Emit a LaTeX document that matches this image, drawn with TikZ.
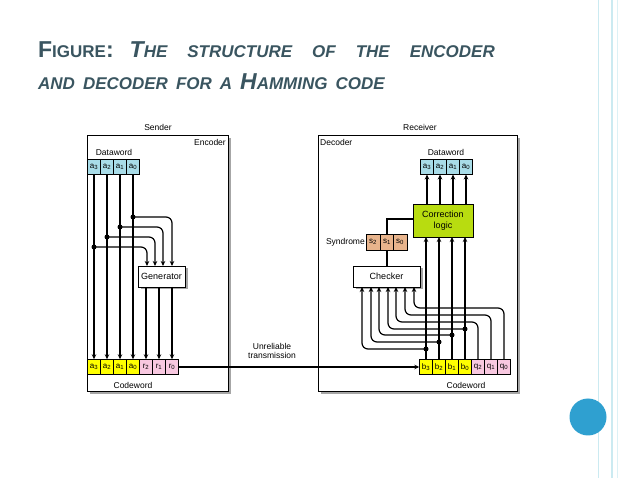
\documentclass[tikz,border=0pt]{standalone}
\usepackage{fontspec}
\setmainfont{Liberation Sans}
\usetikzlibrary{arrows.meta}
\newcommand\cw[2]{#1\textsubscript{#2}}
\definecolor{dblue}{HTML}{A8DCE8}
\definecolor{yel}{HTML}{FFFF00}
\definecolor{pnk}{HTML}{F8C8E0}
\definecolor{tan}{HTML}{E8B48C}
\definecolor{lime}{HTML}{B8DC10}
\definecolor{ttl}{HTML}{3A5560}
\definecolor{circ}{HTML}{2FA0D0}
\begin{document}
\begin{tikzpicture}[x=1pt,y=-1pt,
  cell/.style={draw,minimum width=13pt,minimum height=15pt,inner sep=0pt,font=\fontsize{8}{9}\selectfont},
  box/.style={draw,fill=white,inner sep=0pt,font=\fontsize{9}{10}\selectfont},
  lbl/.style={font=\fontsize{8.5}{9}\selectfont,inner sep=1pt},
  ar/.style={-{Stealth[length=5pt,width=4.5pt]},line width=1.2pt},
  dot/.style={circle,fill,inner sep=0pt,minimum size=5pt},
  rc/.style={rounded corners=6pt}]
\useasboundingbox (0,0) rectangle (638,478);
\fill[white] (0,0) rectangle (638,478);
% decoration
\draw[dblue!60,line width=1pt] (598,0) -- (598,478);
\draw[dblue!60,line width=2pt] (612,0) -- (612,478);
\draw[dblue!40,line width=0.6pt] (617,0) -- (617,478);
\node[circle,fill=circ,minimum size=37pt] (cc) at (588,417) {};
% title
\node[anchor=west,text=ttl,font=\fontsize{23}{24}\selectfont\bfseries,inner sep=0] (t1) at (38,50)
  {F{\fontsize{17}{18}\selectfont IGURE}:\hspace{16pt}\textit{T{\fontsize{17}{18}\selectfont HE\hspace{20pt}STRUCTURE\hspace{20pt}OF\hspace{20pt}THE\hspace{20pt}ENCODER}}};
\node[anchor=west,text=ttl,font=\fontsize{17}{18}\selectfont\itshape\bfseries,inner sep=0] (t2) at (38,82)
  {AND\hspace{8pt}DECODER\hspace{8pt}FOR\hspace{8pt}A\hspace{8pt}{\fontsize{23}{24}\selectfont H}AMMING\hspace{8pt}CODE};
% encoder frame
\fill[gray!70] (89.5,138.5) rectangle (230.5,394.5);
\draw[fill=white,line width=1pt] (87,136) rectangle (228,392);
\node[lbl] (snd) at (158,127) {Sender};
\node[lbl,anchor=north east] (enc) at (227,138) {Encoder};
\node[lbl] (dw1) at (114,152) {Dataword};
\foreach \n/\s/\x in {ea3/3/94,ea2/2/107,ea1/1/120,ea0/0/133}
  \node[cell,fill=dblue] (\n) at (\x,167) {\cw{a}{\s}};
\foreach \n/\s/\x in {ca3/3/94,ca2/2/107,ca1/1/120,ca0/0/133}
  \node[cell,fill=yel] (\n) at (\x,367) {\cw{a}{\s}};
\foreach \n/\s/\x in {cr2/2/146,cr1/1/159,cr0/0/172}
  \node[cell,fill=pnk] (\n) at (\x,367) {\cw{r}{\s}};
\node[lbl] (cwl1) at (133,385) {Codeword};
\fill[gray!70] (140.5,268.5) rectangle (187.5,289.5);
\node[box,minimum width=47pt,minimum height=21pt] (gen) at (161.5,276.5) {Generator};
\foreach \a/\c in {ea3/ca3,ea2/ca2,ea1/ca1,ea0/ca0}
  \draw[ar] (\a.south) -- (\c.north);
\foreach \n/\x/\y/\t in {d0/133/217/172,d1/120/227/163,d2/107/237/155,d3/94/247/147}{
  \node[dot] (\n) at (\x,\y) {};
  \draw[ar,rc] (\n.center) -- (\t,\y) -- (\t,266);
}
\draw[ar] (146,287) -- (cr2.north);
\draw[ar] (159,287) -- (cr1.north);
\draw[ar] (172,287) -- (cr0.north);
% transmission
\node[lbl,align=center] (unr) at (272,351) {Unreliable\\transmission};
% decoder frame
\fill[gray!70] (320.5,138.5) rectangle (519.5,394.5);
\draw[fill=white,line width=1pt] (318,136) rectangle (517,392);
\node[lbl] (rcv) at (420,127) {Receiver};
\node[lbl,anchor=north west] (dec) at (319,138) {Decoder};
\node[lbl] (dw2) at (446,152) {Dataword};
\foreach \n/\s/\x in {da3/3/427,da2/2/440,da1/1/453,da0/0/466}
  \node[cell,fill=dblue] (\n) at (\x,167) {\cw{a}{\s}};
\foreach \n/\s/\x in {b3/3/426,b2/2/439,b1/1/452,b0/0/465}
  \node[cell,fill=yel] (\n) at (\x,367) {\cw{b}{\s}};
\foreach \n/\s/\x in {q2/2/478,q1/1/491,q0/0/504}
  \node[cell,fill=pnk] (\n) at (\x,367) {\cw{q}{\s}};
\node[lbl] (cwl2) at (466,385) {Codeword};
\draw[ar] (cr0.east) -- (b3.west);
\node[box,fill=lime,minimum width=60pt,minimum height=33pt,align=center,font=\fontsize{9}{11}\selectfont] (cor) at (443,220.5) {Correction\\logic};
\foreach \n/\s/\x in {s2/2/373,s1/1/387,s0/0/400}
  \node[cell,fill=tan,minimum width=14pt,minimum height=16pt] (\n) at (\x,242) {\cw{s}{\s}};
\node[lbl,anchor=east] (syn) at (366,242) {Syndrome};
\fill[gray!70] (355.5,268.5) rectangle (422.5,289.5);
\node[box,minimum width=67pt,minimum height=21pt] (chk) at (386.5,276.5) {Checker};
\draw[line width=2.5pt] (s1.north) -- (387,219) -- (cor.west |- 0,219);
\draw[line width=2.5pt] (s1.south) -- (chk.north -| s1);
\foreach \b/\x in {b3/426,b2/439,b1/452,b0/465}
  \draw[ar] (\b.north) -- (\x,237);
\foreach \x in {427,440,453,466}
  \draw[ar] (\x,204) -- (\x,174.5);
\foreach \n/\b/\y/\t in {e3/426/349/362,e2/439/342/371,e1/452/335/379,e0/465/329/388}{
  \node[dot] (\n) at (\b,\y) {};
  \draw[ar,rc] (\n.center) -- (\t,\y) -- (\t,287);
}
\draw[ar,rc] (q2.north) -- (478,322) -- (396,322) -- (396,287);
\draw[ar,rc] (q1.north) -- (491,315) -- (405,315) -- (405,287);
\draw[ar,rc] (q0.north) -- (504,308) -- (414,308) -- (414,287);
\end{tikzpicture}
\end{document}
